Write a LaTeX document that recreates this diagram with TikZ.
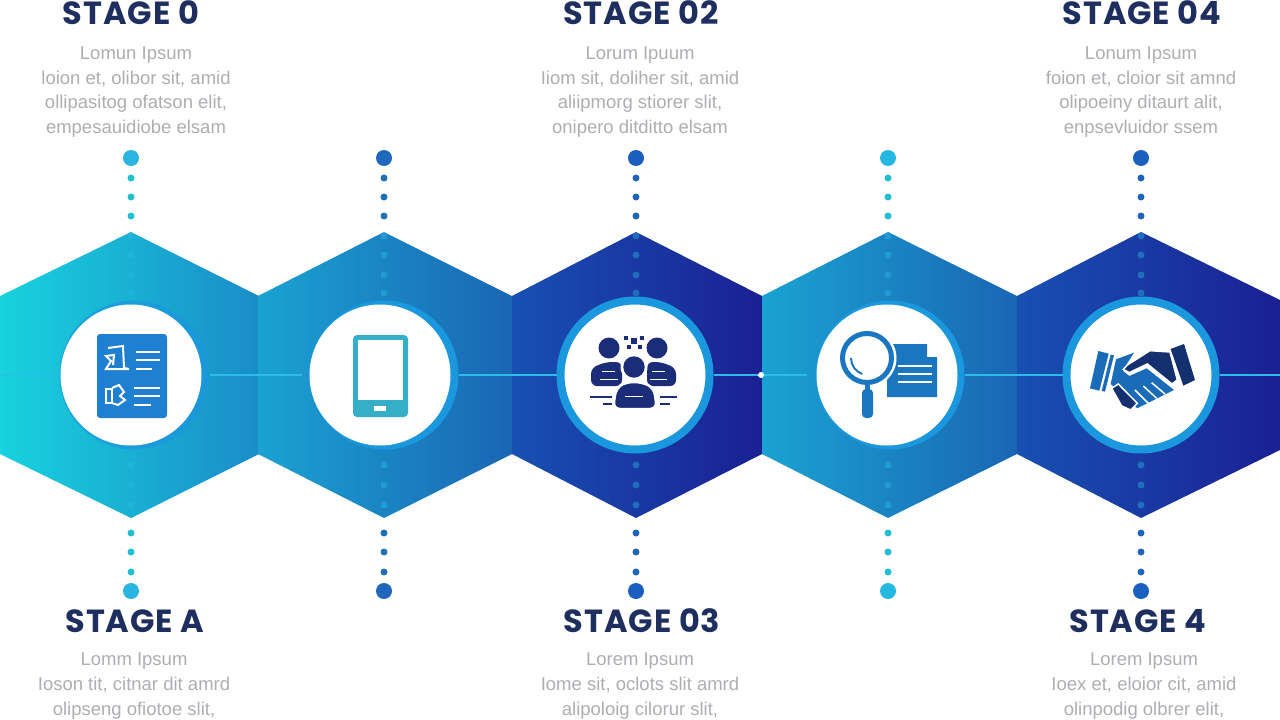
\documentclass[tikz,border=0pt]{standalone}
\usepackage{fontspec}
\setmainfont{Liberation Sans}
\newfontfamily\titlefont[LetterSpace=3]{Poppins}
\definecolor{navy}{HTML}{1E2F5F}
\definecolor{greytext}{HTML}{ACAEB2}
\definecolor{cyanA}{HTML}{18D2DE}
\definecolor{cyanB}{HTML}{1A8CC8}
\definecolor{tealA}{HTML}{1AA2D2}
\definecolor{tealB}{HTML}{1A66B4}
\definecolor{deepA}{HTML}{1850B2}
\definecolor{deepB}{HTML}{1A2092}
\definecolor{ringblue}{HTML}{1B97DE}
\definecolor{iconblue}{HTML}{1F7FD0}
\definecolor{icondark}{HTML}{1B2C78}
\definecolor{handdark}{HTML}{14306E}
\definecolor{handblue}{HTML}{1A6CB8}
\definecolor{lensblue}{HTML}{1B76C0}
\definecolor{tabletblue}{HTML}{35AEC8}
\definecolor{linecyan}{HTML}{2CBCEA}
\tikzset{
  hub/.style={circle, fill=white, inner sep=0pt, minimum size=141pt},
  ringhub/.style={hub, draw=ringblue, line width=8pt, minimum size=149pt},
  halo/.style={circle, fill=ringblue, inner sep=0pt, minimum size=149pt},
  hubline/.style={draw=linecyan, line width=2.5pt},
  bigdot/.style={circle, inner sep=0pt, minimum size=16pt},
  smalldot/.style={circle, inner sep=0pt, minimum size=7pt},
  title/.style={font=\titlefont\fontsize{32}{32}\selectfont\bfseries, text=navy, anchor=base},
  bodytext/.style={font=\fontsize{18.5}{24.7}\selectfont, text=greytext, align=center}
}
\newcommand{\hexcell}[5]{\shade[left color=#4, right color=#5] (#1,296) -- (#2,232) -- (#3,296) -- (#3,454) -- (#2,518) -- (#1,454) -- cycle;}
\begin{document}
\begin{tikzpicture}[x=1pt, y=-1pt]
\useasboundingbox (0,0) rectangle (1280,720);

% hexagon band
\hexcell{0}{131}{259}{cyanA}{cyanB}
\hexcell{258}{384}{512}{tealA}{tealB}
\hexcell{512}{636}{762}{deepA}{deepB}
\hexcell{762}{888}{1017}{tealA}{tealB}
\shade[left color=deepA, right color=deepB] (1017,296) -- (1141,232) -- (1280,300) -- (1280,450) -- (1141,518) -- (1017,454) -- cycle;

% dotted columns
\foreach \col/\x/\big/\small in {1/131/2AB5E0/1FC0D0, 2/384/1F68BE/2170B5, 3/636/1A5FBF/1F66B8, 4/888/26B8E0/20C0D0, 5/1141/1A60BE/1F66B8}{
  \definecolor{bigcol}{HTML}{\big}
  \definecolor{smallcol}{HTML}{\small}
  \node[bigdot, fill=bigcol] (top\col) at (\x,158) {};
  \node[bigdot, fill=bigcol] (bot\col) at (\x,591) {};
  \foreach \y in {178,197,216,533,552,572}
    \node[smalldot, fill=smallcol] (dot\col-\y) at (\x,\y) {};
  \foreach \y in {236,255,275,293,465,485,505}
    \node[smalldot, fill=linecyan, opacity=.4] (in\col-\y) at (\x,\y) {};
}

% hubs
\node[halo, opacity=.7] (halo1) at (134,375) {};
\node[hub] (hub1) at (131,375) {};
\node[halo] (halo2) at (384,375) {};
\node[hub] (hub2) at (380,375) {};
\node[ringhub] (hub3) at (635,375) {};
\node[halo] (halo4) at (890,375) {};
\node[hub] (hub4) at (887,375) {};
\node[ringhub] (hub5) at (1141,375) {};
\coordinate (bandleft) at (0,375);
\coordinate (bandright) at (1280,375);

\draw[hubline, opacity=.5] (bandleft) -- (hub1);
\draw[hubline, shorten <=1pt, shorten >=7pt] (halo1) -- (hub2);
\draw[hubline] (halo2) -- (hub3);
\draw[hubline, shorten >=9pt] (hub3) -- (hub4);
\draw[hubline] (halo4) -- (hub5);
\draw[hubline] (hub5) -- (bandright);
\node[circle, fill=white, inner sep=0pt, minimum size=6pt] (spark) at (761,375) {};

% form icon
\fill[iconblue, rounded corners=3pt] (97,334) rectangle (167,418);
\begin{scope}[draw=white, line width=2pt]
\draw (136,352) -- (160,352);
\draw (136,360) -- (160,360);
\draw (136,369) -- (152,369);
\draw (134,388) -- (160,388);
\draw (134,396) -- (160,396);
\draw (134,405) -- (151,405);
\draw (108,348) -- (123,346) -- (124,368) -- (129,369) -- (106,369) -- (111,361) -- (106,356) -- (114,355) -- (113,365);
\draw (106,389) rectangle (112,403);
\draw (112,388) -- (119,385) -- (124,392) -- (120,396) -- (125,400) -- (118,405) -- (112,403);
\end{scope}

% tablet icon
\fill[tabletblue, rounded corners=4pt] (353,335) rectangle (408,417);
\fill[white] (358,340) rectangle (403,400);
\fill[white] (374,406) rectangle (386,411);

% meeting icon
\begin{scope}[icondark]
\fill (609,348) circle (10.5);
\fill (657,348) circle (10.5);
\fill[rounded corners=6pt] (591,386) -- (591,368) -- (606,362) -- (622,362) -- (622,386) -- cycle;
\fill[rounded corners=6pt] (676,386) -- (676,368) -- (661,362) -- (647,362) -- (647,386) -- cycle;
\fill[white] (634,367) circle (13.5);
\fill (634,367) circle (10.7);
\filldraw[draw=white, line width=2.5pt, rounded corners=7pt] (613,409) -- (616,388) -- (626,382) -- (642,382) -- (654,388) -- (657,409) -- cycle;
\fill (624,336) rectangle (628,340);
\fill (631,338) rectangle (637,344);
\fill (640,336) rectangle (644,340);
\fill (627,345) rectangle (631,349);
\fill (638,345) rectangle (642,349);
\end{scope}
\draw[icondark, line width=1.5pt] (590,397) -- (612,397);
\draw[icondark, line width=1.5pt] (660,397) -- (677,397);
\draw[icondark, line width=1.5pt] (603,404) -- (612,404);
\draw[icondark, line width=1.5pt] (660,404) -- (670,404);
\begin{scope}[draw=white, line width=1pt]
\draw (602,371) -- (615,371);
\draw (600,379) -- (618,379);
\draw (652,371) -- (665,371);
\draw (650,379) -- (667,379);
\draw (625,396) -- (643,396);
\end{scope}

% search icon
\fill[lensblue] (893,344) -- (927,344) -- (927,357) -- (937,357) -- (937,397) -- (887,397) -- (887,366) -- (893,366) -- cycle;
\fill[white] (867,358) circle (29.5);
\fill[lensblue] (865,383) rectangle (870,392);
\fill[lensblue, rounded corners=4pt] (862,389) rectangle (873,418);
\draw[lensblue, line width=5pt] (867,358) circle (24.5);
\draw[lensblue, line width=2pt] (851,358) arc (180:110:17);
\draw[white, line width=2pt] (898,366) -- (932,366);
\draw[white, line width=2pt] (898,374) -- (932,374);
\draw[white, line width=2pt] (898,382) -- (932,382);

% handshake icon
\begin{scope}[shift={(1040,280)}, x=.3333pt, y=-.3333pt]
\fill[handblue] (175,213) -- (206,221) -- (178,332) -- (150,325) -- cycle;
\fill[handblue] (212,224) -- (222,226) -- (195,335) -- (185,333) -- cycle;
\fill[handdark] (392,207) -- (432,192) -- (465,300) -- (430,317) -- cycle;
\fill[handblue] (228,238) -- (282,218) -- (248,272) -- (268,288) -- (320,265) -- (402,330) -- (292,385) -- (212,312) -- cycle;
\filldraw[handdark, draw=white, line width=1.5pt] (262,255) -- (330,212) -- (390,216) -- (412,300) -- (396,312) -- (322,252) -- (268,278) -- (250,268) -- cycle;
\filldraw[handdark, draw=white, line width=1.5pt] (215,325) -- (235,312) -- (292,370) -- (272,390) -- (245,378) -- cycle;
\draw[white, line width=1.5pt] (285,330) -- (325,370);
\draw[white, line width=1.5pt] (310,318) -- (350,355);
\draw[white, line width=1.5pt] (335,308) -- (375,342);
\end{scope}

% labels
\node[title] (stage0) at (131,24) {STAGE 0};
\node[title] (stage02) at (641,24) {STAGE 02};
\node[title] (stage04) at (1142,24) {STAGE 04};
\node[title] (stageA) at (135,632) {STAGE A};
\node[title] (stage03) at (642,632) {STAGE 03};
\node[title] (stage4) at (1138,632) {STAGE 4};

\node[bodytext] (text0) at (136,92) {Lomun Ipsum\\loion et, olibor sit, amid\\ollipasitog ofatson elit,\\empesauidiobe elsam};
\node[bodytext] (text02) at (640,92) {Lorum Ipuum\\Iiom sit, doliher sit, amid\\aliipmorg stiorer slit,\\onipero ditditto elsam};
\node[bodytext] (text04) at (1141,92) {Lonum Ipsum\\foion et, cloior sit amnd\\olipoeiny ditaurt alit,\\enpsevluidor ssem};
\node[bodytext] (textA) at (134,686) {Lomm Ipsum\\Ioson tit, citnar dit amrd\\olipseng ofiotoe slit,};
\node[bodytext] (text03) at (640,686) {Lorem Ipsum\\Iome sit, oclots slit amrd\\alipoloig cilorur slit,};
\node[bodytext] (text4) at (1144,686) {Lorem Ipsum\\Ioex et, eloior cit, amid\\olinpodig olbrer elit,};
\end{tikzpicture}
\end{document}
